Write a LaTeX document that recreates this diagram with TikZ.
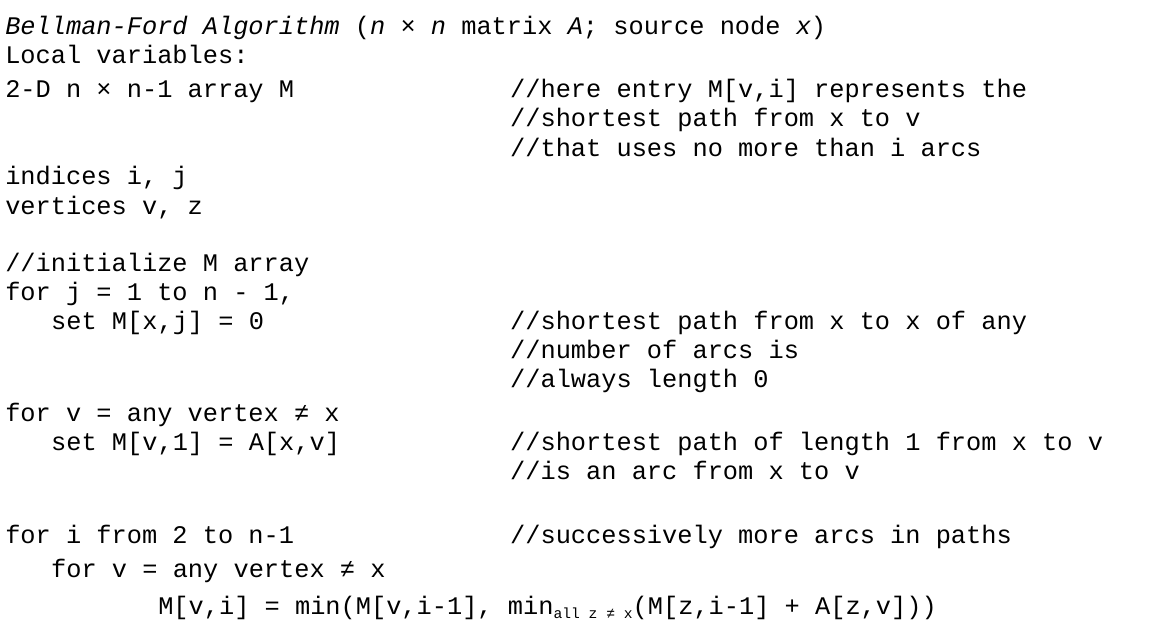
\documentclass[tikz,border=0pt]{standalone}
\usepackage{fontspec}
\setmonofont{Liberation Mono}
\begin{document}
\begin{tikzpicture}[x=0.75pt,y=-0.75pt,
  code/.style={anchor=base west,inner sep=0pt,font=\ttfamily\fontsize{19}{22}\selectfont}]
\useasboundingbox (0,0) rectangle (1160,642);
\def\cx#1{\fpeval{5+#1*15.3}}
\node[code] (t) at (5,35) {\textit{Bellman-Ford Algorithm} (\textit{n × n} matrix \textit{A}; source node \textit{x})};
\node[code] (l1) at (5,64) {Local variables:};
\node[code] (l2) at (5,98) {2-D n × n-1 array M};
\node[code] (c2a) at (\cx{33},98) {//here entry M[v,i] represents the};
\node[code] (c2b) at (\cx{33},126) {//shortest path from x to v};
\node[code] (c2c) at (\cx{33},156) {//that uses no more than i arcs};
\node[code] (l3) at (5,184) {indices i, j};
\node[code] (l4) at (5,214) {vertices v, z};
\node[code] (l5) at (5,271) {//initialize M array};
\node[code] (l6) at (5,300) {for j = 1 to n - 1,};
\node[code] (l7) at (\cx{3},329) {set M[x,j] = 0};
\node[code] (c7a) at (\cx{33},329) {//shortest path from x to x of any};
\node[code] (c7b) at (\cx{33},358) {//number of arcs is};
\node[code] (c7c) at (\cx{33},387) {//always length 0};
\node[code] (l8) at (5,421) {for v = any vertex ≠ x};
\node[code] (l9) at (\cx{3},450) {set M[v,1] = A[x,v]};
\node[code] (c9a) at (\cx{33},450) {//shortest path of length 1 from x to v};
\node[code] (c9b) at (\cx{33},479) {//is an arc from x to v};
\node[code] (l10) at (5,543) {for i from 2 to n-1};
\node[code] (c10) at (\cx{33},543) {//successively more arcs in paths};
\node[code] (l11) at (\cx{3},577) {for v = any vertex ≠ x};
\node[code] (l12) at (\cx{10},614) {M[v,i] = min(M[v,i-1], min\raisebox{-3pt}{\fontsize{11}{12}\selectfont all z ≠ x}(M[z,i-1] + A[z,v]))};
\end{tikzpicture}
\end{document}
